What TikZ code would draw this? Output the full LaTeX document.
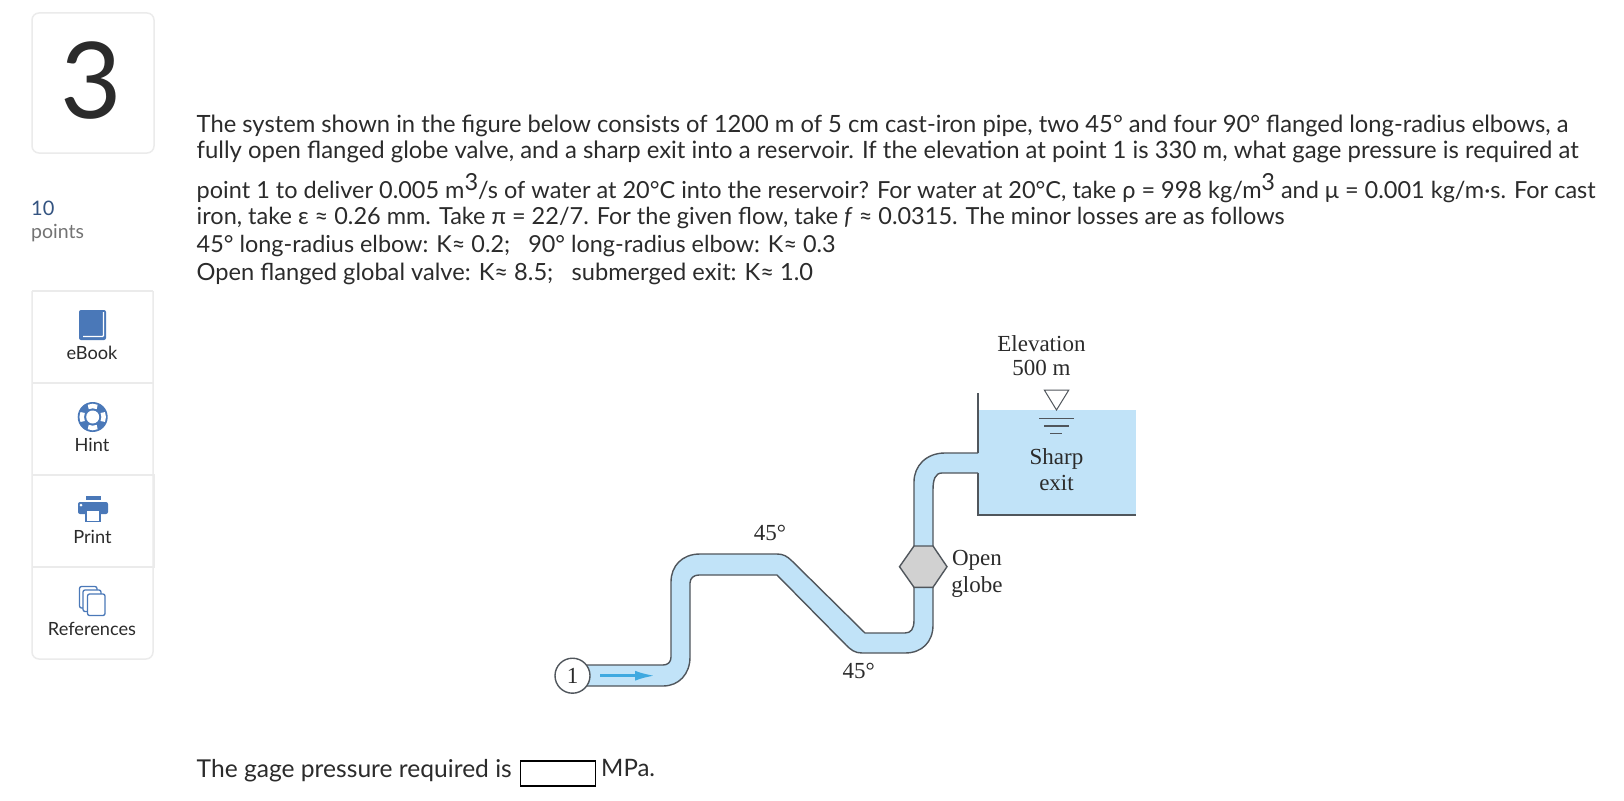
\documentclass[tikz,border=0pt]{standalone}
\usepackage{fontspec}
\setmainfont{Lato}
\newfontfamily\figfont{Liberation Serif}
\usetikzlibrary{arrows.meta}
\definecolor{water}{HTML}{C1E3F8}
\definecolor{pipeline}{HTML}{50565C}
\definecolor{iconblue}{HTML}{4A78B8}
\definecolor{framegray}{HTML}{EBEBEB}
\definecolor{inktext}{HTML}{2B2B2B}
\definecolor{flowblue}{HTML}{3FA9E0}
\newcommand{\arw}{-{Latex[length=20pt,width=10pt]}}
\newcommand{\pipelow}{(587,686) -- (663,686) .. controls (679,686) and (690,674) .. (690,657) -- (690,583) .. controls (690,578) and (694,575) .. (699,575) -- (777,575) -- (846,645) .. controls (851,650) and (855,653) .. (862,653) -- (905,653) .. controls (922,653) and (933,642) .. (933,625) -- (933,490) .. controls (933,480) and (935,473) .. (942,473) -- (978,473)}
\newcommand{\pipeup}{(978,453) -- (945,453) .. controls (926,453) and (914,466) .. (914,482) -- (914,620) .. controls (914,629) and (911,633) .. (905,633) -- (865,633) -- (792,561) .. controls (787,556) and (783,554) .. (777,554) -- (700,554) .. controls (682,554) and (671,566) .. (671,582) -- (671,657) .. controls (671,662) and (668,665) .. (663,665) -- (587,665)}
\newcommand{\cube}{\raisebox{8pt}{3}}
\tikzset{
  bodyline/.style={anchor=west,inner sep=0pt,text=inktext,font=\fontsize{#1}{26}\selectfont},
  sidelabel/.style={inner sep=0pt,text=inktext,font=\fontsize{18.2}{20}\selectfont},
  figlabel/.style={inner sep=0pt,text=inktext,font=\figfont\fontsize{23}{26}\selectfont},
  frameline/.style={draw=framegray,line width=1.5pt},
  pipeedge/.style={draw=pipeline,line width=1.4pt}
}
\begin{document}
\begin{tikzpicture}[x=1pt,y=-1pt]
\useasboundingbox (0,0) rectangle (1624,800);
\fill[white] (0,0) rectangle (1624,800);
%question number
\draw[frameline,rounded corners=7pt] (32,13) rectangle (154,153);
\node[inner sep=0pt,text=inktext,font=\fontsize{106}{110}\selectfont] (qnum) at (91,81) {3};
\node[anchor=west,inner sep=0pt,text=iconblue!70!black,font=\fontsize{20}{24}\selectfont] (pts) at (31,208) {10};
\node[anchor=west,inner sep=0pt,text=black!55,font=\fontsize{19.5}{24}\selectfont] (ptlabel) at (31,233) {points};
%side panel
\draw[frameline,rounded corners=7pt] (32,291) -- (32,659) -- (153,659) -- (153,291);
\draw[frameline] (32,291) -- (153,291);
\draw[frameline] (32,383) -- (153,383);
\draw[frameline] (32,475) -- (154,475) -- (154,567) -- (32,567);
%book
\fill[iconblue,rounded corners=2pt] (79,310) rectangle (106,340);
\draw[white,line width=1.1pt,rounded corners=1pt] (103.5,312) -- (103.5,336.5) -- (83,336.5);
\node[sidelabel] (ebook) at (92,353) {eBook};
%lifebuoy
\fill[iconblue] (92.7,417) circle (15);
\fill[white] (92.7,417) circle (6.5);
\foreach \ang in {0,90,180,270}
  \draw[white,line width=4.5pt] (92.7,417) ++(\ang-24:11) arc[start angle=\ang-24,end angle=\ang+24,radius=11];
\node[sidelabel] (hint) at (92,445) {Hint};
%printer
\fill[iconblue] (85.7,496) rectangle (100.7,499.5);
\fill[iconblue,rounded corners=2pt] (78,502) rectangle (108,514);
\fill[white] (81,505) circle (1.5);
\draw[iconblue,fill=white,line width=1.4pt] (86,510.5) rectangle (100,521.5);
\node[sidelabel] (print) at (92.5,537) {Print};
%pages
\draw[iconblue,fill=white,line width=1.3pt,rounded corners=2pt] (79.5,586.5) rectangle (97,608);
\draw[iconblue,fill=white,line width=1.3pt,rounded corners=2pt] (83,590) rectangle (101,611.5);
\draw[iconblue,fill=white,line width=1.3pt,rounded corners=2pt] (87.5,594) rectangle (105,615.5);
\node[sidelabel] (refs) at (92,629) {References};
%question text
\node[bodyline=23.75] (lineA) at (196.5,126) {The system shown in the figure below consists of 1200 m of 5 cm cast-iron pipe, two 45° and four 90° flanged long-radius elbows, a};
\node[bodyline=23.9] (lineB) at (196.5,152) {fully open flanged globe valve, and a sharp exit into a reservoir. If the elevation at point 1 is 330 m, what gage pressure is required at};
\node[bodyline=23.5] (lineC) at (196.5,188) {point 1 to deliver 0.005 m\cube/s of water at 20°C into the reservoir? For water at 20°C, take ρ = 998 kg/m\cube{} and μ = 0.001 kg/m·s. For cast};
\node[bodyline=23.5] (lineD) at (196.5,218) {iron, take ε ≈ 0.26 mm. Take π = 22/7. For the given flow, take \textit{f} ≈ 0.0315. The minor losses are as follows};
\node[bodyline=23.4] (lineE) at (196.5,246) {45° long-radius elbow: K≈ 0.2;\ \ \ 90° long-radius elbow: K≈ 0.3};
\node[bodyline=23.65] (lineF) at (196.5,274) {Open flanged global valve: K≈ 8.5;\ \ \ submerged exit: K≈ 1.0};
%reservoir
\fill[water] (978,410) rectangle (1136,515);
\draw[pipeedge] (978,393) -- (978,453);
\draw[pipeedge] (978,473) -- (978,515) -- (1136,515);
%pipe
\fill[water] \pipelow -- \pipeup -- cycle;
\draw[pipeedge] \pipelow;
\draw[pipeedge] \pipeup;
\coordinate (flowa) at (600,675.7);
\coordinate (flowb) at (655,675.7);
\draw[\arw,draw=flowblue,fill=flowblue,line width=2.8pt] (flowa) -- (flowb);
\node[draw=pipeline,fill=white,circle,line width=1.4pt,minimum size=35pt,inner sep=0pt,text=inktext,font=\figfont\fontsize{23}{24}\selectfont] (pointone) at (572.5,675.7) {1};
%valve
\draw[pipeedge,fill=black!18] (899.5,566.7) -- (914,546) -- (933,546) -- (947,566.7) -- (933,587.3) -- (914,587.3) -- cycle;
%free surface
\draw[pipeedge,line width=1pt,fill=white] (1044.3,390) -- (1068.8,390) -- (1056.5,410) -- cycle;
\draw[pipeedge,line width=1.5pt] (1039,418.7) -- (1074,418.7);
\draw[pipeedge,line width=1.5pt] (1044.3,426) -- (1068.8,426);
\draw[pipeedge,line width=1.5pt] (1050.4,433.7) -- (1061.8,433.7);
%labels
\node[figlabel] (elev) at (1041.4,343.3) {Elevation};
\node[figlabel] (elevval) at (1041.4,368.3) {500 m};
\node[figlabel] (sharp) at (1056.5,459) {Sharp};
\node[figlabel] (exitlab) at (1056.5,483.3) {exit};
\node[figlabel] (upper) at (770,532.7) {45°};
\node[figlabel] (lower) at (858.6,670.7) {45°};
\node[figlabel] (open) at (977,560) {Open};
\node[figlabel] (globe) at (977,586.7) {globe};
%answer line
\node[bodyline=24.6] (answer) at (196.5,770.5) {The gage pressure required is};
\node[draw=black,line width=1.6pt,minimum width=75pt,minimum height=25pt,inner sep=0pt] (answerbox) at (557.8,773.3) {};
\node[bodyline=24] (unit) at (601,768) {MPa.};
\end{tikzpicture}
\end{document}
